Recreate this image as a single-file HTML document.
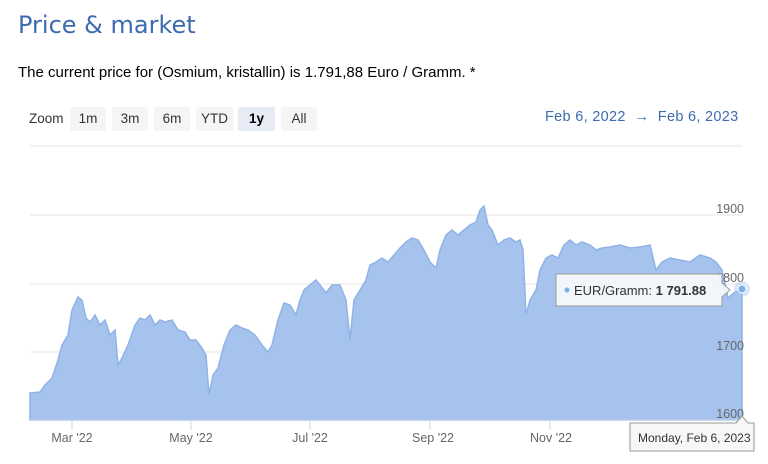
<!DOCTYPE html>
<html><head><meta charset="utf-8"><style>
body{margin:0;width:768px;height:464px;background:#fff;overflow:hidden;font-family:"Liberation Sans",sans-serif;position:relative}
.t{position:absolute;left:18px;top:11px;font-family:"DejaVu Sans",sans-serif;font-size:24px;color:#3d6bb0}
.s{position:absolute;left:18px;top:64px;font-size:15px;color:#000}
.z{position:absolute;top:107px;font-size:13.5px;color:#333;height:24px;line-height:24px}
.b{position:absolute;top:107px;height:24px;line-height:24px;background:#f5f5f5;font-size:13.5px;color:#333;text-align:center;border-radius:2px}
.r{position:absolute;left:545px;top:109px;font-size:14.5px;color:#3d6bb0;letter-spacing:0.3px}
svg{position:absolute;left:0;top:0}
</style></head><body>
<div class="t">Price &amp; market</div>
<div class="s">The current price for (Osmium, kristallin) is 1.791,88 Euro / Gramm. *</div>
<div class="z" style="left:29px">Zoom</div>
<div class="b" style="left:70px;width:36px">1m</div>
<div class="b" style="left:112px;width:36px">3m</div>
<div class="b" style="left:154px;width:36px">6m</div>
<div class="b" style="left:196px;width:37px">YTD</div>
<div class="b" style="left:238px;width:37px;background:#e6ebf5;font-weight:bold;color:#000">1y</div>
<div class="b" style="left:281px;width:36px">All</div>
<div class="r">Feb 6, 2022 &nbsp;→ &nbsp;Feb 6, 2023</div>
<svg width="768" height="464">
<line x1="30" y1="146" x2="742" y2="146" stroke="#e6e6e6"/>
<line x1="30" y1="215" x2="742" y2="215" stroke="#e6e6e6"/>
<line x1="30" y1="284" x2="742" y2="284" stroke="#e6e6e6"/>
<line x1="30" y1="352" x2="742" y2="352" stroke="#e6e6e6"/>
<path d="M30,393 L40,392 45,385 52,378 58,360 62,345 68,335 72,310 78,297 82,300 86,318 90,322 95,315 100,325 105,320 110,335 115,330 118,365 122,358 128,345 135,325 140,318 145,320 150,315 155,325 160,320 165,322 172,320 178,330 185,332 190,340 196,340 202,348 206,355 209,395 213,375 218,368 224,345 230,330 236,325 242,328 248,330 255,335 262,345 268,352 272,345 278,320 284,303 290,305 296,315 300,300 304,290 310,285 316,280 320,285 326,293 332,285 340,285 346,300 350,340 354,300 360,290 366,280 370,265 376,262 382,258 388,262 394,255 400,248 406,242 412,238 418,240 424,250 430,262 436,268 440,250 446,235 452,230 458,235 464,230 470,225 476,222 480,210 484,206 488,225 492,230 498,245 504,240 510,238 516,242 520,240 523,250 526,315 530,300 536,290 540,270 546,258 552,255 558,258 564,245 570,240 576,245 582,242 590,245 596,250 602,248 610,247 620,245 630,248 640,247 650,245 656,270 662,262 670,258 680,260 690,262 700,255 710,258 716,262 722,270 728,298 735,292 742,290 L742,420 L30,420 Z" fill="#a5c3ec" stroke="#8fb3e6" stroke-width="1.5"/>
<line x1="30" y1="420" x2="742" y2="420" stroke="#ccd6eb"/>
<g stroke="#ccd6eb"><line x1="72" y1="420" x2="72" y2="430"/><line x1="191" y1="420" x2="191" y2="430"/><line x1="310" y1="420" x2="310" y2="430"/><line x1="430" y1="420" x2="430" y2="430"/><line x1="550" y1="420" x2="550" y2="430"/></g>
<g font-size="12.5" fill="#666" text-anchor="middle"><text x="72" y="442">Mar '22</text><text x="191" y="442">May '22</text><text x="310" y="442">Jul '22</text><text x="433" y="442">Sep '22</text><text x="551" y="442">Nov '22</text></g>
<g font-size="12.5" fill="#666" text-anchor="end"><text x="744" y="213">1900</text><text x="744" y="282">1800</text><text x="744" y="350">1700</text><text x="744" y="418">1600</text></g>
<circle cx="742" cy="289" r="8" fill="#a5c3ec" opacity="0.4"/>
<circle cx="742" cy="289" r="4" fill="#7cb0ec" stroke="#fff"/>
<path d="M556,274 H722 V283 L730,290 L722,297 V306 H556 Z" fill="#f7f8fa" stroke="#999" opacity="0.95"/>
<circle cx="567" cy="290" r="2.5" fill="#7cb0ec"/>
<text x="574" y="295" font-size="13" fill="#333">EUR/Gramm: <tspan font-weight="bold">1 791.88</tspan></text>
<path d="M630,423 H736 L742,416 L748,423 H754 V451 H630 Z" fill="#f7f7f7" stroke="#999"/>
<text x="638" y="442" font-size="12" fill="#333">Monday, Feb 6, 2023</text>
</svg>
</body></html>
